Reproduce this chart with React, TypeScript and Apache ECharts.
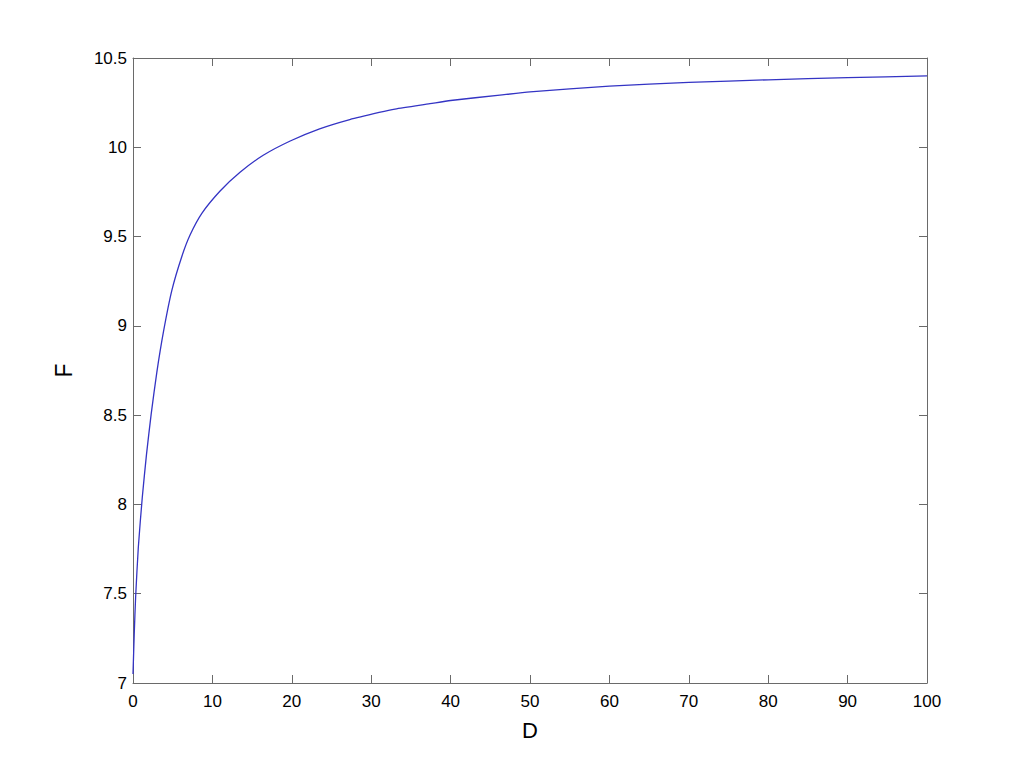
import { useEffect, useRef } from "react";
import * as echarts from "echarts";

// D values (x) and F values (y)
const dValues = [
  0, 0.16, 0.33, 0.67, 1.17, 1.7, 2.3, 3.0, 3.85, 4.9, 6.16, 7.2, 8.67, 10.97,
  13.48, 16.4, 19.8, 23.5, 27.3, 31, 33, 37.4, 40, 46.2, 50, 60, 70, 80, 90, 100,
];
const fValues = [
  7.05, 7.28, 7.48, 7.76, 8.04, 8.28, 8.51, 8.74, 8.97, 9.2, 9.39, 9.51, 9.63,
  9.755, 9.86, 9.955, 10.035, 10.103, 10.155, 10.195, 10.214, 10.244, 10.262,
  10.292, 10.31, 10.342, 10.363, 10.378, 10.39, 10.4,
];

const xTicks = [0, 10, 20, 30, 40, 50, 60, 70, 80, 90, 100];
const yTicks = ["7", "7.5", "8", "8.5", "9", "9.5", "10", "10.5"];

const axisColor = "#6a6a6a";
const font = "'Liberation Sans', Arial, Helvetica, sans-serif";

export default function App() {
  const chartRef = useRef<HTMLDivElement>(null);

  useEffect(() => {
    if (!chartRef.current) return;
    const chart = echarts.init(chartRef.current, undefined, { renderer: "svg" });

    const points = dValues.map((d, i) => [d, fValues[i]]);

    const xBase = {
      type: "value" as const,
      min: xTicks[0],
      max: xTicks[xTicks.length - 1],
      interval: 10,
      splitLine: { show: false },
      axisLine: { show: true, onZero: false, lineStyle: { color: axisColor, width: 1 } },
      axisTick: { show: true, inside: true, length: 8, lineStyle: { color: axisColor } },
    };
    const yBase = {
      type: "value" as const,
      min: Number(yTicks[0]),
      max: Number(yTicks[yTicks.length - 1]),
      interval: 0.5,
      splitLine: { show: false },
      axisLine: { show: true, onZero: false, lineStyle: { color: axisColor, width: 1 } },
      axisTick: { show: true, inside: true, length: 8, lineStyle: { color: axisColor } },
    };

    chart.setOption({
      animation: false,
      backgroundColor: "#ffffff",
      grid: { left: 133, right: 97, top: 58, bottom: 84, containLabel: false },
      xAxis: [
        {
          ...xBase,
          position: "bottom",
          name: "D",
          nameLocation: "middle",
          nameGap: 36,
          nameTextStyle: { color: "#000", fontSize: 22, fontFamily: font },
          axisLabel: {
            color: "#000",
            fontSize: 17,
            fontFamily: font,
            margin: 10,
            formatter: (v: number) => String(v),
          },
        },
        { ...xBase, position: "top", axisLabel: { show: false } },
      ],
      yAxis: [
        {
          ...yBase,
          position: "left",
          name: "F",
          nameLocation: "middle",
          nameGap: 58,
          nameRotate: 90,
          nameTextStyle: { color: "#000", fontSize: 23, fontFamily: font },
          axisLabel: {
            color: "#000",
            fontSize: 17,
            fontFamily: font,
            margin: 6,
            formatter: (v: number) => yTicks.find((t) => Number(t) === v) ?? String(v),
          },
        },
        { ...yBase, position: "right", axisLabel: { show: false } },
      ],
      series: [
        {
          type: "line",
          data: points,
          smooth: 0.2,
          showSymbol: false,
          lineStyle: { color: "#3434c4", width: 1.3 },
        },
      ],
    });

    return () => chart.dispose();
  }, []);

  return (
    <div
      ref={chartRef}
      style={{ position: "fixed", left: 0, top: 0, width: 1024, height: 767 }}
    />
  );
}
